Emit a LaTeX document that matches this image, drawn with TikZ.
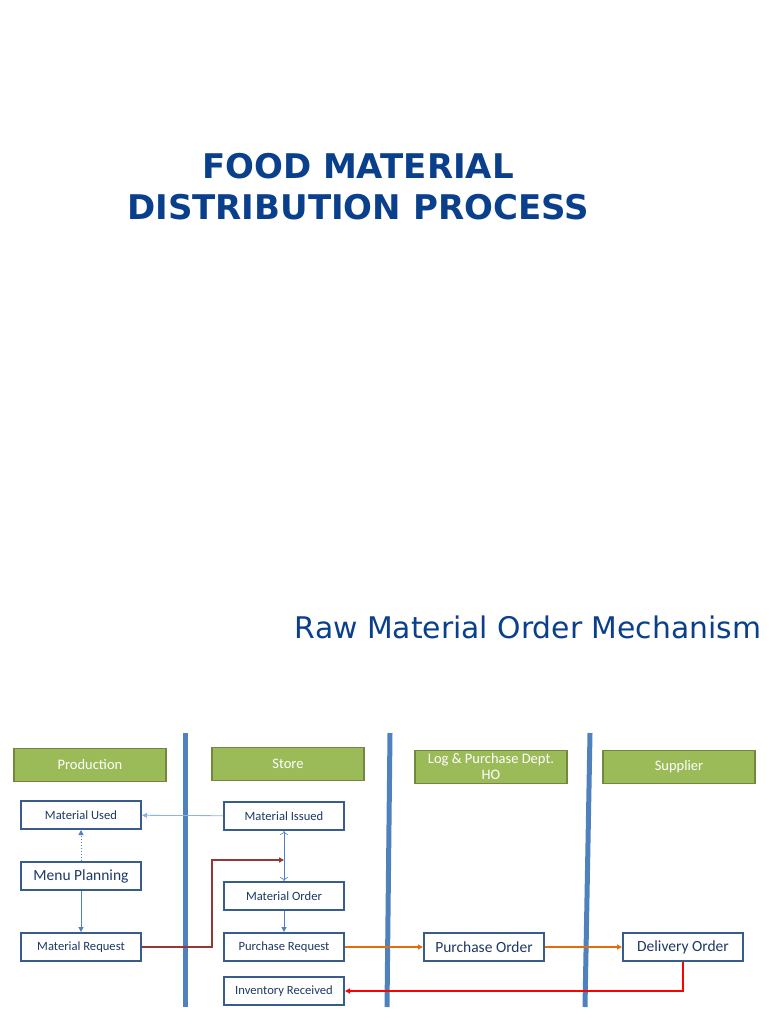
\documentclass[tikz,border=0pt]{standalone}
\usepackage{fontspec}
\setmainfont{Carlito}
\newfontfamily\titlefont{DejaVu Sans}
\usetikzlibrary{arrows.meta}
\definecolor{titleblue}{HTML}{0A3F8C}
\definecolor{laneblue}{HTML}{4F81BD}
\definecolor{lightblue}{HTML}{8DB3E2}
\definecolor{boxline}{HTML}{385D8A}
\definecolor{boxtext}{HTML}{1F3864}
\definecolor{headgreen}{HTML}{9BBB59}
\definecolor{headline}{HTML}{71893F}
\definecolor{darkred}{HTML}{953735}
\definecolor{orangeline}{HTML}{E46C0A}
\definecolor{redline}{HTML}{FF0000}

\tikzset{
  header/.style={draw=headline, line width=1.4pt, fill=headgreen, text=white,
    minimum width=152pt, minimum height=33pt, inner sep=0pt,
    font=\fontsize{14.5}{16}\selectfont},
  procbox/.style={draw=boxline, line width=2pt, fill=white, text=boxtext,
    minimum width=120pt, minimum height=28pt, inner sep=0pt,
    font=\fontsize{12.6}{14}\selectfont},
  bigbox/.style={procbox, font=\fontsize{15.5}{17}\selectfont},
  lane/.style={laneblue, line width=5pt},
  flow/.style={laneblue, line width=1pt, -{Triangle[length=5pt,width=5pt]}},
}

\begin{document}
\begin{tikzpicture}[x=1pt, y=-1pt]

  \useasboundingbox (0,0) rectangle (768,1024);

  % === Titles ===
  \node[text=titleblue, align=center, font=\titlefont\bfseries\fontsize{34}{41}\selectfont]
    (title) at (358,187) {FOOD MATERIAL\\DISTRIBUTION PROCESS};
  \node[text=titleblue, font=\titlefont\fontsize{29.8}{32}\selectfont]
    (subtitle) at (528,627) {Raw Material Order Mechanism};

  % === Swim lane dividers ===
  \draw[lane] (185,733) -- (185,1007);
  \draw[lane] (390,733) -- (387,1007);
  \draw[lane] (590,733) -- (585,1007);

  % === Lane headers ===
  \node[header] (production) at (90,765) {Production};
  \node[header] (store) at (288,764) {Store};
  \node[header] (logho) at (491,767)
    {\raisebox{1pt}{\shortstack{Log \& Purchase Dept.\\[2pt]HO}}};
  \node[header] (supplier) at (679,767) {Supplier};

  % === Production ===
  \node[procbox] (matused) at (81,815) {Material Used};
  \node[bigbox] (menuplan) at (81,876) {Menu Planning};
  \node[procbox] (matreq) at (81,947) {Material Request};

  % === Store ===
  \node[procbox] (matissued) at (284,816) {Material Issued};
  \node[procbox] (matorder) at (284,896) {Material Order};
  \node[procbox] (purreq) at (284,947) {Purchase Request};
  \node[procbox] (invrec) at (284,991) {Inventory Received};

  % === Log & Purchase / Supplier ===
  \node[bigbox] (purorder) at (484,947) {Purchase Order};
  \node[bigbox] (delorder) at (683,947) {Delivery Order};

  \coordinate (reqin) at (284,860);

  % === Connectors ===
  \draw[flow, lightblue, line width=0.8pt] (matissued) -- (matused);
  \draw[flow, dotted] (menuplan) -- (matused);
  \draw[flow] (menuplan) -- (matreq);
  \draw[laneblue, line width=0.6pt, {To[length=4pt]}-{To[length=4pt]}] (matissued) -- (matorder);
  \draw[flow] (matorder) -- (purreq);
  \draw[flow, darkred, line width=1.6pt] (matreq.east) -- (212,947) -- (212,860) -- (reqin);
  \draw[flow, orangeline, line width=1.4pt] (purreq) -- (purorder);
  \draw[flow, orangeline, line width=1.4pt] (purorder) -- (delorder);
  \draw[flow, redline, line width=1.4pt] (delorder.south) |- (invrec.east);

\end{tikzpicture}
\end{document}
